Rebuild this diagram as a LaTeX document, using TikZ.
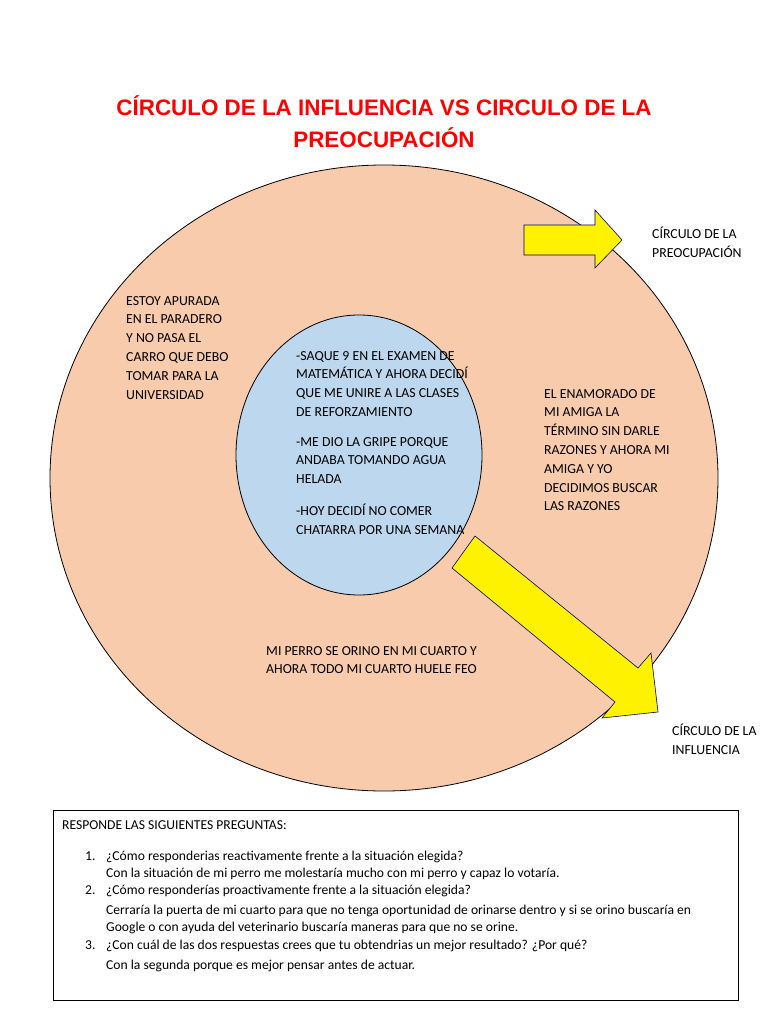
\documentclass[tikz,border=0pt]{standalone}
\usepackage{fontspec}
\setmainfont{Carlito}
\newfontfamily\titlefont{Liberation Sans}
\begin{document}
\begin{tikzpicture}[x=1pt,y=-1pt,
  lbl/.style={align=left,anchor=north west,font=\fontsize{13.8}{18.8}\selectfont,inner sep=0pt},
  ql/.style={anchor=base west,font=\fontsize{13.6}{14}\selectfont,inner sep=0pt},
  arr/.style={fill=yellow,draw=black!60!blue,line width=0.6pt,line join=miter}]
\useasboundingbox (0,0) rectangle (768,1024);
\node[font=\titlefont\bfseries\fontsize{22.4}{32}\selectfont,text=red,align=center] (title) at (384,122) {CÍRCULO DE LA INFLUENCIA VS CIRCULO DE LA\\PREOCUPACIÓN};
\fill[fill={rgb,255:red,248;green,203;blue,173}] (384,478) ellipse [x radius=334,y radius=313];
\draw[black,line width=0.8pt] (384,478) ellipse [x radius=334,y radius=313];
\filldraw[fill={rgb,255:red,189;green,215;blue,238},draw=black,line width=0.8pt] (359,455) ellipse [x radius=123,y radius=140];
\draw[arr] (524,225) -- (595,225) -- (595,210) -- (622,240) -- (595,268) -- (595,255) -- (524,255) -- cycle;
\draw[arr] (475,536) -- (638,668) -- (651,653) -- (658,712) -- (602,718) -- (615,702) -- (452,568) -- cycle;
\node[lbl] (preo) at (652,227) {CÍRCULO DE LA\\PREOCUPACIÓN};
\node[lbl] (infl) at (672,724) {CÍRCULO DE LA\\INFLUENCIA};
\node[lbl] (a) at (126,296) {ESTOY APURADA\\EN EL PARADERO\\Y NO PASA EL\\CARRO QUE DEBO\\TOMAR PARA LA\\UNIVERSIDAD};
\node[lbl] (b) at (296,351) {-SAQUE 9 EN EL EXAMEN DE\\MATEMÁTICA Y AHORA DECIDÍ\\QUE ME UNIRE A LAS CLASES\\DE REFORZAMIENTO};
\node[lbl] (c) at (296,437) {-ME DIO LA GRIPE PORQUE\\ANDABA TOMANDO AGUA\\HELADA};
\node[lbl] (d) at (296,504) {-HOY DECIDÍ NO COMER\\CHATARRA POR UNA SEMANA};
\node[lbl] (e) at (544,389) {EL ENAMORADO DE\\MI AMIGA LA\\TÉRMINO SIN DARLE\\RAZONES Y AHORA MI\\AMIGA Y YO\\DECIDIMOS BUSCAR\\LAS RAZONES};
\node[lbl] (f) at (266,646) {MI PERRO SE ORINO EN MI CUARTO Y\\AHORA TODO MI CUARTO HUELE FEO};
\draw[black,line width=0.8pt] (53,810) rectangle (738,1000);
\node[ql] (q) at (62,829) {RESPONDE LAS SIGUIENTES PREGUNTAS:};
\node[ql] (n1) at (85,860) {1.};
\node[ql] (n2) at (85,894) {2.};
\node[ql] (n3) at (85,949) {3.};
\node[ql] (l1) at (106,860) {¿Cómo responderias reactivamente frente a la situación elegida?};
\node[ql] (l2) at (106,877) {Con la situación de mi perro me molestaría mucho con mi perro y capaz lo votaría.};
\node[ql] (l3) at (106,894) {¿Cómo responderías proactivamente frente a la situación elegida?};
\node[ql] (l4) at (106,914) {Cerraría la puerta de mi cuarto para que no tenga oportunidad de orinarse dentro y si se orino buscaría en};
\node[ql] (l5) at (106,931) {Google o con ayuda del veterinario buscaría maneras para que no se orine.};
\node[ql] (l6) at (106,949) {¿Con cuál de las dos respuestas crees que tu obtendrias un mejor resultado? ¿Por qué?};
\node[ql] (l7) at (106,969) {Con la segunda porque es mejor pensar antes de actuar.};
\end{tikzpicture}
\end{document}
